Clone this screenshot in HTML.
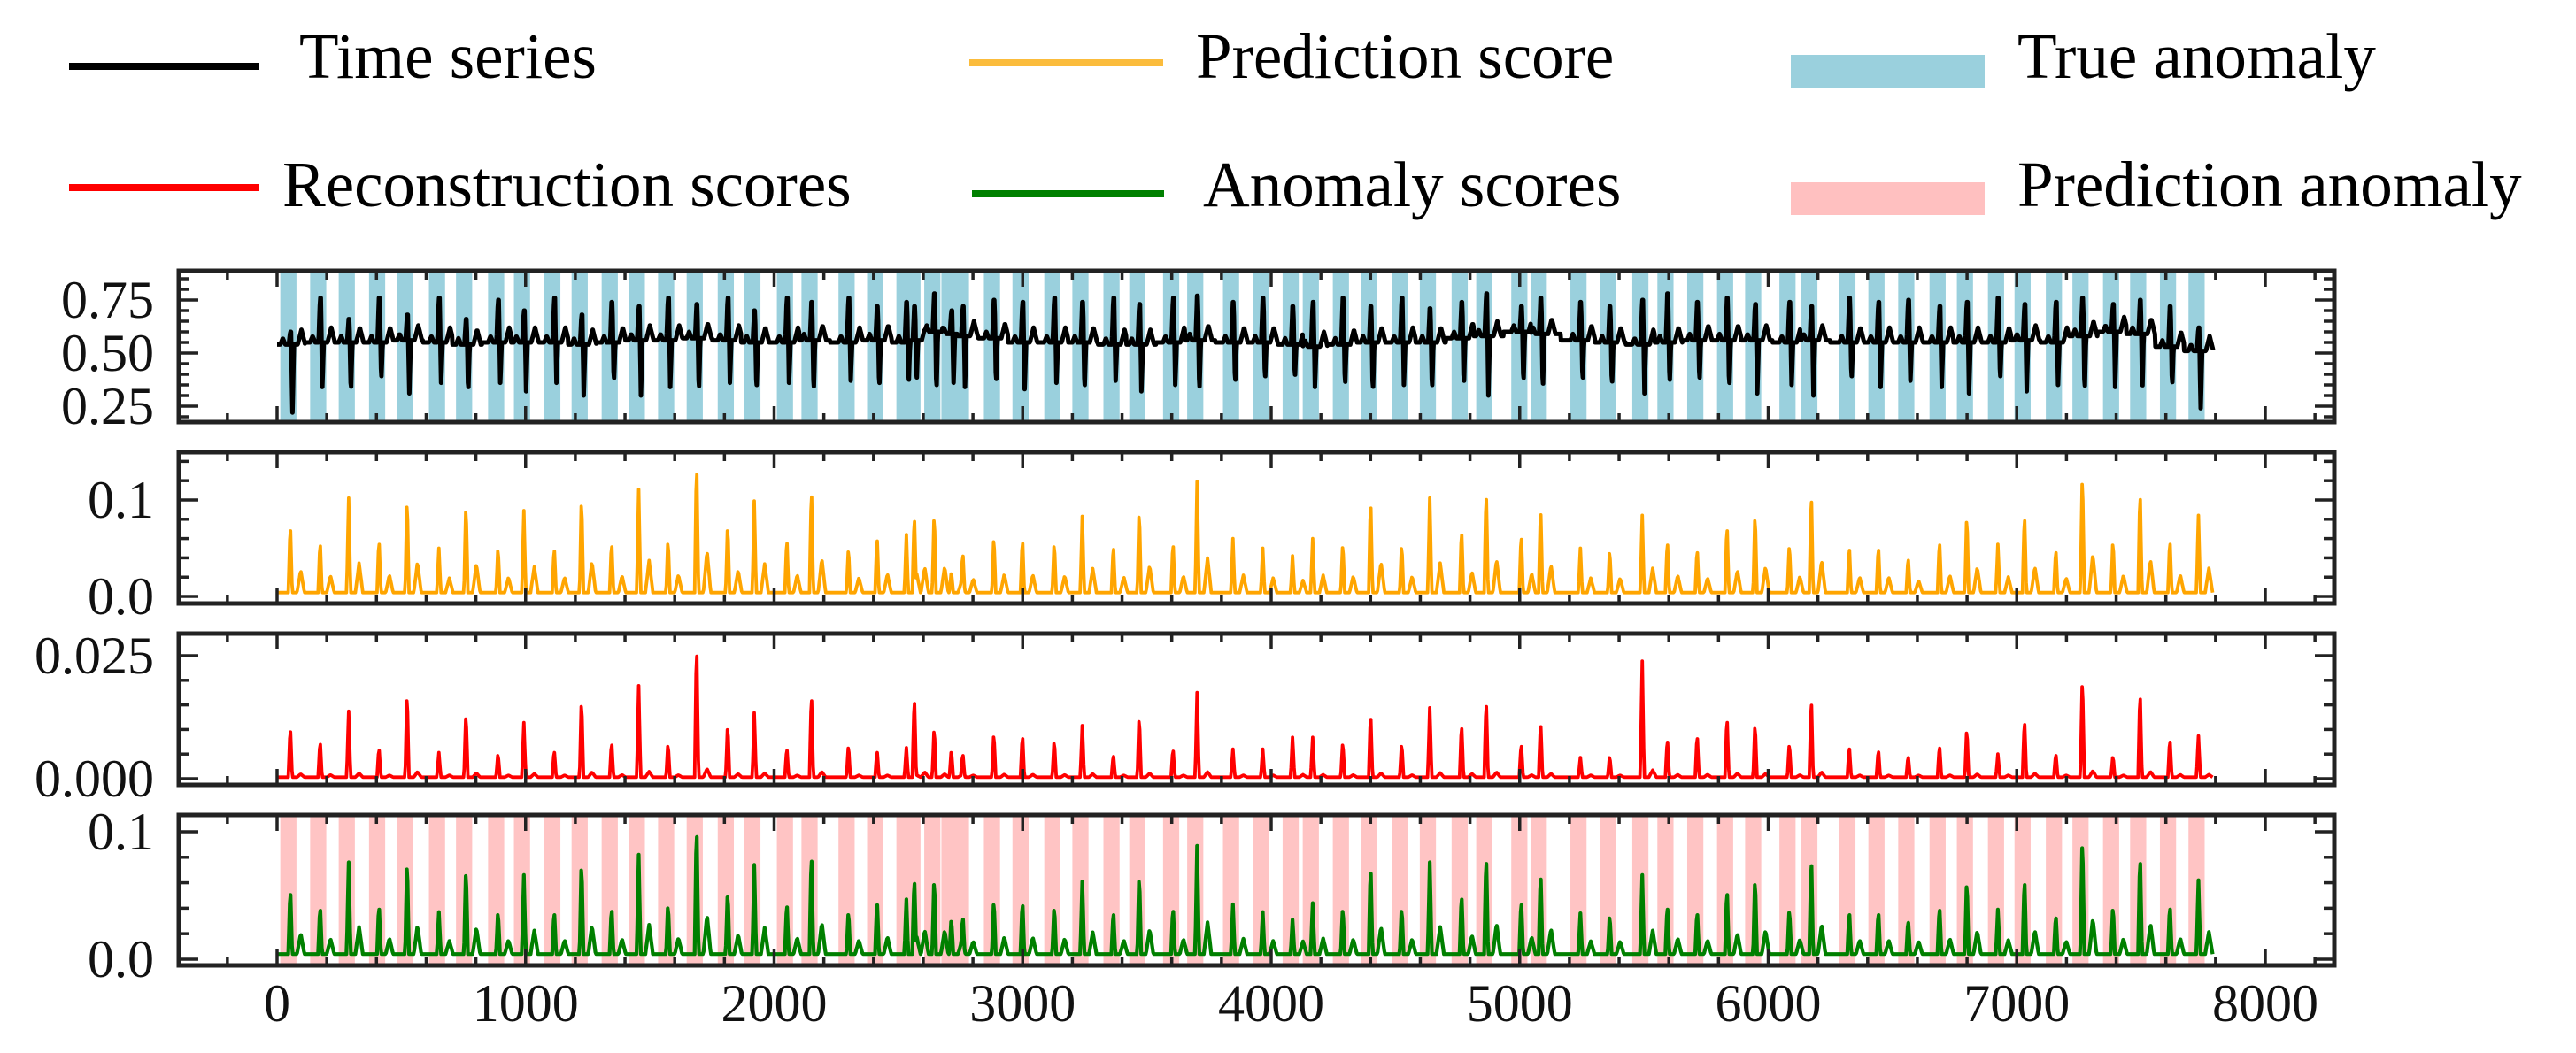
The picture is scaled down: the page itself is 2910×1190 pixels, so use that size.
<!DOCTYPE html>
<html><head><meta charset="utf-8"><style>
html,body{margin:0;padding:0;background:#fff;}
svg{display:block;font-family:"Liberation Serif",serif;}
</style></head><body>
<svg id="chart" width="2910" height="1190" viewBox="0 0 2910 1190" xmlns="http://www.w3.org/2000/svg">
<g font-size="73" fill="#000">
  <g><line x1="78" y1="75" x2="293" y2="75" stroke="#000" stroke-width="8"/><text x="338" y="88">Time series</text></g>
  <g><line x1="1095" y1="71" x2="1314" y2="71" stroke="#fbbc3c" stroke-width="8"/><text x="1351" y="88">Prediction score</text></g>
  <g><rect x="2023" y="62" width="219" height="37" fill="#9ad0dd"/><text x="2279" y="88">True anomaly</text></g>
  <g><line x1="78" y1="212" x2="293" y2="212" stroke="#ff0000" stroke-width="8"/><text x="319" y="233">Reconstruction scores</text></g>
  <g><line x1="1098" y1="219" x2="1315" y2="219" stroke="#008000" stroke-width="8"/><text x="1359" y="233">Anomaly scores</text></g>
  <g><rect x="2023" y="206" width="219" height="37" fill="#ffc0c0"/><text x="2279" y="233">Prediction anomaly</text></g>
</g>
<g id="plots"></g>
</svg>
<script>
// ---- data ----
const beatTimes = [53,173,288,410,523,651,760,889,993,1115,1225,1346,1455,1573,1688,1813,1920,2051,2150,2299,2414,2532,2564,2644,2713,2759,2884,2999,3127,3240,3365,3469,3605,3702,3846,3966,4086,4167,4288,4400,4525,4638,4766,4865,5006,5084,5244,5362,5493,5594,5714,5834,5947,6085,6173,6326,6443,6563,6689,6799,6924,7031,7157,7264,7387,7496,7616,7731];
const predScores = [0.077,0.059,0.102,0.061,0.105,0.050,0.099,0.053,0.089,0.053,0.106,0.058,0.111,0.061,0.144,0.077,0.099,0.062,0.117,0.052,0.065,0.064,0.088,0.089,0.026,0.047,0.064,0.062,0.058,0.083,0.055,0.093,0.058,0.119,0.060,0.050,0.042,0.060,0.057,0.104,0.056,0.102,0.072,0.114,0.067,0.096,0.050,0.050,0.084,0.060,0.051,0.077,0.089,0.056,0.111,0.054,0.054,0.042,0.060,0.087,0.054,0.089,0.051,0.132,0.060,0.114,0.061,0.084];
const reconScores = [0.0108,0.0079,0.0137,0.0065,0.0180,0.0053,0.0138,0.0053,0.0114,0.0060,0.0167,0.0077,0.0189,0.0074,0.0284,0.0113,0.0134,0.0065,0.0180,0.0070,0.0060,0.0063,0.0174,0.0107,0.0060,0.0053,0.0096,0.0092,0.0081,0.0108,0.0051,0.0132,0.0063,0.0175,0.0060,0.0060,0.0084,0.0084,0.0077,0.0137,0.0074,0.0144,0.0115,0.0167,0.0074,0.0120,0.0043,0.0048,0.0239,0.0084,0.0092,0.0130,0.0116,0.0074,0.0170,0.0068,0.0061,0.0048,0.0070,0.0105,0.0050,0.0125,0.0053,0.0213,0.0048,0.0184,0.0084,0.0087];
const anomScores = [0.057,0.043,0.076,0.044,0.080,0.037,0.074,0.039,0.066,0.039,0.079,0.042,0.082,0.045,0.109,0.055,0.074,0.046,0.087,0.039,0.048,0.047,0.067,0.066,0.033,0.035,0.048,0.047,0.043,0.061,0.039,0.069,0.042,0.089,0.043,0.037,0.031,0.044,0.042,0.076,0.042,0.076,0.053,0.085,0.048,0.071,0.036,0.036,0.066,0.044,0.039,0.057,0.066,0.041,0.083,0.039,0.039,0.032,0.043,0.064,0.039,0.066,0.036,0.099,0.043,0.085,0.044,0.062];
const tsBase = [0.54,0.55,0.55,0.55,0.56,0.55,0.54,0.55,0.55,0.55,0.54,0.55,0.56,0.56,0.57,0.56,0.55,0.55,0.56,0.55,0.56,0.55,0.56,0.60,0.59,0.58,0.57,0.55,0.55,0.55,0.54,0.54,0.55,0.56,0.55,0.55,0.54,0.53,0.54,0.55,0.55,0.55,0.57,0.58,0.60,0.59,0.56,0.55,0.54,0.55,0.56,0.56,0.56,0.55,0.56,0.55,0.55,0.55,0.55,0.55,0.55,0.56,0.55,0.58,0.60,0.59,0.53,0.51];
const tsPeak = [0.60,0.76,0.66,0.76,0.68,0.76,0.66,0.75,0.70,0.76,0.68,0.74,0.72,0.76,0.73,0.76,0.70,0.76,0.74,0.76,0.72,0.74,0.72,0.78,0.70,0.72,0.75,0.74,0.76,0.74,0.76,0.73,0.76,0.77,0.74,0.76,0.72,0.74,0.76,0.72,0.76,0.71,0.74,0.78,0.72,0.76,0.74,0.72,0.75,0.78,0.74,0.76,0.73,0.74,0.72,0.76,0.74,0.75,0.72,0.74,0.76,0.73,0.74,0.76,0.73,0.75,0.72,0.62];
const tsTrough = [0.22,0.34,0.30,0.36,0.31,0.36,0.30,0.36,0.32,0.36,0.30,0.35,0.30,0.34,0.30,0.36,0.31,0.36,0.30,0.37,0.32,0.34,0.35,0.30,0.36,0.34,0.34,0.33,0.36,0.31,0.37,0.32,0.35,0.30,0.34,0.36,0.37,0.34,0.33,0.30,0.35,0.31,0.33,0.30,0.34,0.31,0.35,0.33,0.31,0.34,0.35,0.32,0.31,0.35,0.30,0.36,0.34,0.37,0.34,0.31,0.36,0.32,0.35,0.30,0.34,0.30,0.33,0.24];
const xTickLabels = ["0","1000","2000","3000","4000","5000","6000","7000","8000"];
const xTickValues = [0,1000,2000,3000,4000,5000,6000,7000,8000];
const p1TickValues = [0.25,0.50,0.75];
const p1TickLabels = ["0.25","0.50","0.75"];
const p2TickValues = [0.0,0.1];
const p2TickLabels = ["0.0","0.1"];
const p3TickValues = [0.000,0.025];
const p3TickLabels = ["0.000","0.025"];
const p4TickValues = [0.0,0.1];
const p4TickLabels = ["0.0","0.1"];
const seriesEnd = 7790;

// ---- layout ----
const NS = "http://www.w3.org/2000/svg";
const X0 = 313, PXU = 0.28075, LEFT = 202, RIGHT = 2637;
function xScale(t){ return X0 + t*PXU; }
const panels = [
  {name:"time-series", top:306, bot:477, ymin:0.175, ymax:0.8875, major:p1TickValues, labels:p1TickLabels, minorStep:0.05, minorFrom:0.2},
  {name:"prediction-score", top:511, bot:682, ymin:-0.0073, ymax:0.1495, major:p2TickValues, labels:p2TickLabels, minorStep:0.02, minorFrom:0},
  {name:"reconstruction-scores", top:716, bot:887, ymin:-0.00126, ymax:0.0295, major:p3TickValues, labels:p3TickLabels, minorStep:0.005, minorFrom:0},
  {name:"anomaly-scores", top:921, bot:1091, ymin:-0.0049, ymax:0.1132, major:p4TickValues, labels:p4TickLabels, minorStep:0.02, minorFrom:0}
];
panels.forEach(p=>{ p.y = v => p.bot - (v-p.ymin)/(p.ymax-p.ymin)*(p.bot-p.top); });
const root = document.getElementById('plots');
function mk(tag, attrs, parent){ const e=document.createElementNS(NS,tag); for(const k in attrs) e.setAttribute(k,attrs[k]); (parent||root).appendChild(e); return e; }

function spikeSeries(base, vals, bumpFrac, bumpMin){
  const pts=[];
  for(let t=0;t<=seriesEnd;t+=3){
    let v=base;
    for(let i=0;i<beatTimes.length;i++){
      const d=t-beatTimes[i];
      if(Math.abs(d)<8) v=Math.max(v, base+(vals[i]-base)*(1-Math.abs(d)/8));
      const db=d-42;
      if(Math.abs(db)<15){ const h=Math.max(bumpMin, vals[i]*bumpFrac); v=Math.max(v, base+h*(1-Math.abs(db)/15)); }
    }
    pts.push([t,v]);
  }
  return pts;
}
function tsSeries(){
  const pts=[];
  for(let t=0;t<=seriesEnd;t+=2){
    let i=0; let best=1e9;
    for(let k=0;k<beatTimes.length;k++){ const d=Math.abs(t-beatTimes[k]); if(d<best){best=d;i=k;} }
    const d=t-beatTimes[i], b=tsBase[i];
    let v=b;
    if(d>=-6&&d<0) v=b+(tsPeak[i]-b)*(1+d/6);
    else if(d>=0&&d<3) v=tsPeak[i];
    else if(d>=3&&d<9) v=tsPeak[i]+(tsTrough[i]-tsPeak[i])*((d-3)/6);
    else if(d>=9&&d<15) v=tsTrough[i]+(b-tsTrough[i])*((d-9)/6);
    else if(d>=30&&d<60) v=b+0.07*(1-Math.abs(d-45)/15);
    else if(d>=-40&&d<-20) v=b+0.03*(1-Math.abs(d+30)/10);
    pts.push([t,v]);
  }
  return pts;
}

panels.forEach((p,pi)=>{
  const g=mk('g',{});
  
  
  const cid='clip'+pi;
  const cp=mk('clipPath',{id:cid},g); mk('rect',{x:LEFT,y:p.top,width:RIGHT-LEFT,height:p.bot-p.top},cp);
  if(pi===0||pi===3){
    const bg=mk('g',{'clip-path':'url(#'+cid+')'},g);
    
    
    beatTimes.forEach(bt=>{
      const r=mk('rect',{x:xScale(bt-40),y:p.top,width:xScale(bt+25)-xScale(bt-40),height:p.bot-p.top,fill:pi===0?'#9ad0dd':'#ffc4c4'},bg);
      
      
    });
  }
  let pts, color, w;
  if(pi===0){ pts=tsSeries(); color='#000'; w=5; }
  else if(pi===1){ pts=spikeSeries(0.004,predScores,0.3,0.012); color='#ffa500'; w=3.8; }
  else if(pi===2){ pts=spikeSeries(0.0003,reconScores,0.06,0.0004); color='#ff0000'; w=3.8; }
  else { pts=spikeSeries(0.004,anomScores,0.28,0.01); color='#008000'; w=4.2; }
  const d=pts.map((q,k)=>(k?'L':'M')+xScale(q[0]).toFixed(1)+','+p.y(q[1]).toFixed(1)).join('');
  const path=mk('path',{d:d,fill:'none',stroke:color,'stroke-width':w,'stroke-linejoin':'round','clip-path':'url(#'+cid+')'},g);
  
  
  const tg=mk('g',{stroke:'#222','stroke-width':3.5},g);
  
  
  for(let t=-400;t<=8600;t+=200){
    const x=xScale(t); if(x<=LEFT+2||x>=RIGHT-2) continue;
    const L=(t%1000===0)?18:10;
    mk('line',{x1:x,y1:p.bot,x2:x,y2:p.bot-L},tg);
    mk('line',{x1:x,y1:p.top,x2:x,y2:p.top+L},tg);
  }
  for(let v=p.minorFrom-10*p.minorStep; v<=p.ymax; v+=p.minorStep){
    const y=p.y(v); if(y<p.top+2||y>p.bot-2) continue;
    const isMaj=p.major.some(m=>Math.abs(m-v)<p.minorStep/10);
    const L=isMaj?22:12;
    mk('line',{x1:LEFT,y1:y,x2:LEFT+L,y2:y},tg);
    mk('line',{x1:RIGHT,y1:y,x2:RIGHT-L,y2:y},tg);
  }
  const fr=mk('rect',{x:LEFT,y:p.top,width:RIGHT-LEFT,height:p.bot-p.top,fill:'none',stroke:'#222','stroke-width':5},g);
  
  
  p.major.forEach((v,k)=>{
    const tx=mk('text',{x:174,y:p.y(v)+20,'text-anchor':'end','font-size':60,fill:'#111'},g);
    tx.textContent=p.labels[k];
    
    
  });
});
const xg=mk('g',{});


xTickValues.forEach((v,k)=>{
  const tx=mk('text',{x:xScale(v),y:1154,'text-anchor':'middle','font-size':60,fill:'#111'},xg);
  tx.textContent=xTickLabels[k];
  
  
});
</script>
</body></html>
